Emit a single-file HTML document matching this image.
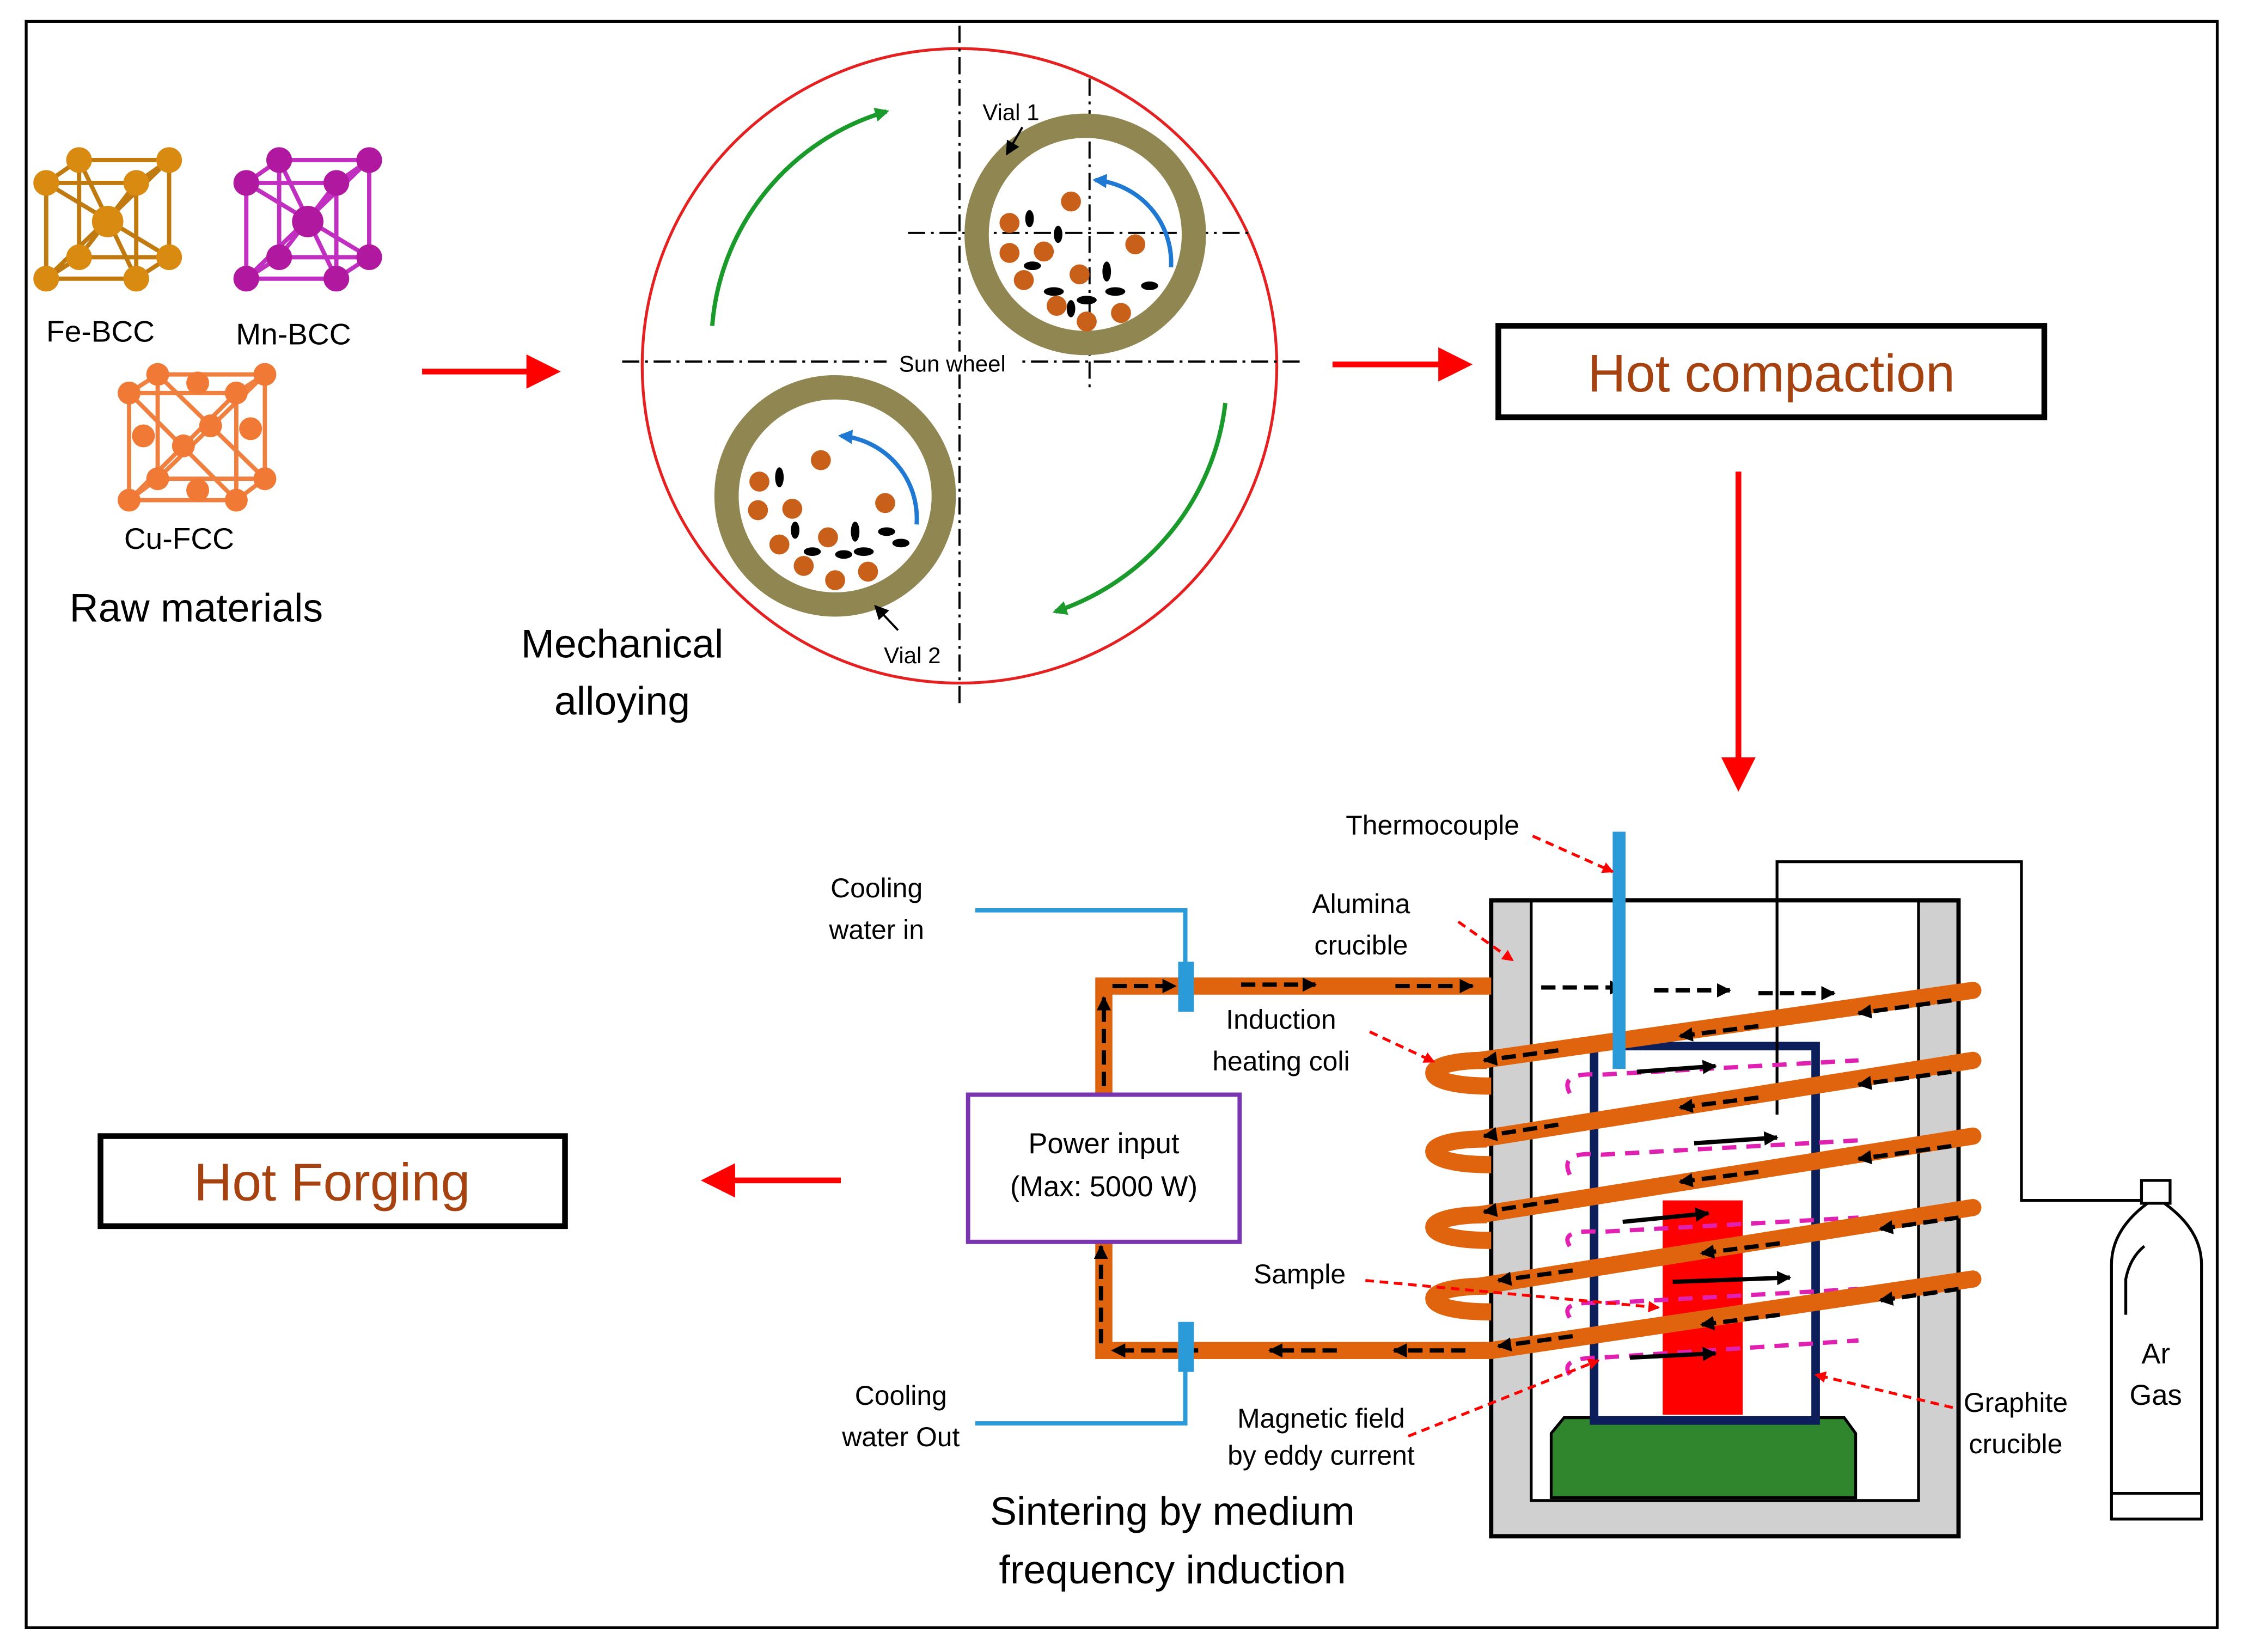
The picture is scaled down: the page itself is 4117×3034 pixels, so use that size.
<!DOCTYPE html>
<html><head><meta charset="utf-8"><style>
html,body{margin:0;padding:0;background:#fff}
svg{display:block}
text{font-family:"Liberation Sans",sans-serif}
</style></head><body>
<svg width="4117" height="3034" viewBox="0 0 1568 1156" xmlns="http://www.w3.org/2000/svg">
<defs>
<marker id="ra" markerWidth="6" markerHeight="6" refX="5" refY="3" orient="auto" markerUnits="strokeWidth"><path d="M0,0 L6,3 L0,6 z" fill="#f00"/></marker>
<marker id="rs" markerWidth="8" markerHeight="8" refX="7" refY="4" orient="auto" markerUnits="userSpaceOnUse"><path d="M0,0 L8,4 L0,8 z" fill="#f00"/></marker>
<marker id="ka" markerWidth="10" markerHeight="10" refX="9" refY="5" orient="auto" markerUnits="userSpaceOnUse"><path d="M0,0 L10,5 L0,10 z" fill="#000"/></marker>
<marker id="ga" markerWidth="10" markerHeight="10" refX="8" refY="5" orient="auto" markerUnits="userSpaceOnUse"><path d="M0,0 L10,5 L0,10 z" fill="#1a9a2a"/></marker>
<marker id="ba" markerWidth="10" markerHeight="10" refX="8" refY="5" orient="auto" markerUnits="userSpaceOnUse"><path d="M0,0 L10,5 L0,10 z" fill="#1f78d1"/></marker>
</defs>
<rect x="0" y="0" width="1568" height="1156" fill="#fff"/>
<rect x="18" y="15" width="1533" height="1124" fill="none" stroke="#000" stroke-width="2"/>

<!-- crystals -->
<g stroke="#c07a10" stroke-width="3" fill="none">
<path d="M32,128 L95,128 L95,195 L32,195 Z M55,112 L118,112 L118,180 L55,180 Z M32,128 L55,112 M95,128 L118,112 M95,195 L118,180 M32,195 L55,180 M32,128 L118,180 M95,128 L55,180 M32,195 L118,112 M95,195 L55,112"/>
</g>
<g fill="#d98a10"><circle cx="32" cy="128" r="9"/><circle cx="95" cy="128" r="9"/><circle cx="32" cy="195" r="9"/><circle cx="95" cy="195" r="9"/><circle cx="55" cy="112" r="9"/><circle cx="118" cy="112" r="9"/><circle cx="55" cy="180" r="9"/><circle cx="118" cy="180" r="9"/><circle cx="75" cy="155" r="11"/></g>
<g stroke="#c02fc0" stroke-width="3" fill="none">
<path d="M172,128 L235,128 L235,195 L172,195 Z M195,112 L258,112 L258,180 L195,180 Z M172,128 L195,112 M235,128 L258,112 M235,195 L258,180 M172,195 L195,180 M172,128 L258,180 M235,128 L195,180 M172,195 L258,112 M235,195 L195,112"/>
</g>
<g fill="#b0189f"><circle cx="172" cy="128" r="9"/><circle cx="235" cy="128" r="9"/><circle cx="172" cy="195" r="9"/><circle cx="235" cy="195" r="9"/><circle cx="195" cy="112" r="9"/><circle cx="258" cy="112" r="9"/><circle cx="195" cy="180" r="9"/><circle cx="258" cy="180" r="9"/><circle cx="215" cy="155" r="11"/></g>
<g stroke="#f08040" stroke-width="3" fill="none">
<path d="M90,275 L165,275 L165,350 L90,350 Z M110,262 L185,262 L185,335 L110,335 Z M90,275 L110,262 M165,275 L185,262 M165,350 L185,335 M90,350 L110,335 M90,275 L165,350 M165,275 L90,350 M110,262 L185,335 M185,262 L110,335"/>
</g>
<g fill="#f07a35"><circle cx="90" cy="275" r="8"/><circle cx="165" cy="275" r="8"/><circle cx="90" cy="350" r="8"/><circle cx="165" cy="350" r="8"/><circle cx="110" cy="262" r="8"/><circle cx="185" cy="262" r="8"/><circle cx="110" cy="335" r="8"/><circle cx="185" cy="335" r="8"/><circle cx="128" cy="312" r="8"/><circle cx="147" cy="298" r="8"/><circle cx="100" cy="305" r="8"/><circle cx="175" cy="300" r="8"/><circle cx="138" cy="268" r="8"/><circle cx="138" cy="343" r="8"/></g>
<text x="70" y="239" font-size="21" text-anchor="middle">Fe-BCC</text>
<text x="205" y="241" font-size="21" text-anchor="middle">Mn-BCC</text>
<text x="125" y="384" font-size="21" text-anchor="middle">Cu-FCC</text>
<text x="137" y="435" font-size="28" text-anchor="middle">Raw materials</text>

<line x1="295" y1="260" x2="388" y2="260" stroke="#f00" stroke-width="4" marker-end="url(#ra)"/>

<!-- mill -->
<circle cx="671" cy="256" r="222" fill="none" stroke="#e52020" stroke-width="2"/>
<g stroke="#000" stroke-width="1.5" stroke-dasharray="12,4,2,4" fill="none">
<line x1="671" y1="18" x2="671" y2="492"/><line x1="435" y1="253" x2="912" y2="253"/>
<line x1="762" y1="55" x2="762" y2="275"/><line x1="635" y1="163" x2="875" y2="163"/>
</g>
<circle cx="759" cy="164" r="76" fill="none" stroke="#8f8652" stroke-width="17"/>
<circle cx="584" cy="347" r="76" fill="none" stroke="#8f8652" stroke-width="17"/>
<rect x="620" y="246" width="92" height="16" fill="#fff"/>
<text x="666" y="260" font-size="16" text-anchor="middle">Sun wheel</text>
<text x="707" y="84" font-size="16" text-anchor="middle">Vial 1</text>
<text x="638" y="464" font-size="16" text-anchor="middle">Vial 2</text>
<line x1="715" y1="89" x2="704" y2="108" stroke="#000" stroke-width="1.5" marker-end="url(#ka)"/>
<line x1="628" y1="441" x2="612" y2="424" stroke="#000" stroke-width="1.5" marker-end="url(#ka)"/>
<path d="M498,228 A170,170 0 0 1 620,78" fill="none" stroke="#1a9a2a" stroke-width="3" marker-end="url(#ga)"/>
<path d="M857,282 A175,175 0 0 1 738,428" fill="none" stroke="#1a9a2a" stroke-width="3" marker-end="url(#ga)"/>
<path d="M819,187 A58,58 0 0 0 766,126" fill="none" stroke="#1f78d1" stroke-width="3" marker-end="url(#ba)"/>
<path d="M641,367 A58,58 0 0 0 588,305" fill="none" stroke="#1f78d1" stroke-width="3" marker-end="url(#ba)"/>
<g fill="#c8601a">
<circle cx="706" cy="156" r="7"/><circle cx="749" cy="141" r="7"/><circle cx="706" cy="177" r="7"/><circle cx="730" cy="176" r="7"/><circle cx="716" cy="196" r="7"/><circle cx="755" cy="192" r="7"/><circle cx="794" cy="171" r="7"/><circle cx="739" cy="214" r="7"/><circle cx="784" cy="219" r="7"/><circle cx="760" cy="225" r="7"/>
<circle cx="574" cy="322" r="7"/><circle cx="531" cy="337" r="7"/><circle cx="530" cy="357" r="7"/><circle cx="554" cy="356" r="7"/><circle cx="619" cy="352" r="7"/><circle cx="579" cy="376" r="7"/><circle cx="545" cy="381" r="7"/><circle cx="562" cy="396" r="7"/><circle cx="584" cy="406" r="7"/><circle cx="607" cy="400" r="7"/>
</g>
<g fill="#000">
<ellipse cx="720" cy="153" rx="3" ry="6"/><ellipse cx="740" cy="164" rx="3" ry="6"/><ellipse cx="722" cy="186" rx="6" ry="3"/><ellipse cx="774" cy="190" rx="3" ry="7"/><ellipse cx="737" cy="204" rx="7" ry="3"/><ellipse cx="760" cy="210" rx="7" ry="3"/><ellipse cx="780" cy="204" rx="7" ry="3"/><ellipse cx="804" cy="200" rx="6" ry="3"/><ellipse cx="749" cy="216" rx="3" ry="6"/>
<ellipse cx="545" cy="334" rx="3" ry="7"/><ellipse cx="556" cy="371" rx="3" ry="6"/><ellipse cx="568" cy="386" rx="6" ry="3"/><ellipse cx="598" cy="372" rx="3" ry="7"/><ellipse cx="604" cy="386" rx="7" ry="3"/><ellipse cx="630" cy="380" rx="6" ry="3"/><ellipse cx="620" cy="372" rx="6" ry="3"/><ellipse cx="590" cy="388" rx="6" ry="3"/>
</g>
<text x="435" y="460" font-size="28" text-anchor="middle">Mechanical</text>
<text x="435" y="500" font-size="28" text-anchor="middle">alloying</text>

<line x1="932" y1="255" x2="1026" y2="255" stroke="#f00" stroke-width="4" marker-end="url(#ra)"/>
<rect x="1048" y="228" width="382" height="64" fill="#fff" stroke="#000" stroke-width="4"/>
<text x="1239" y="274" font-size="37" fill="#a5420f" text-anchor="middle">Hot compaction</text>
<line x1="1216" y1="330" x2="1216" y2="550" stroke="#f00" stroke-width="4" marker-end="url(#ra)"/>

<rect x="70" y="795" width="325" height="63" fill="#fff" stroke="#000" stroke-width="4"/>
<text x="232" y="840" font-size="37" fill="#a5420f" text-anchor="middle">Hot Forging</text>
<line x1="588" y1="826" x2="494" y2="826" stroke="#f00" stroke-width="4" marker-end="url(#ra)"/>

<!-- furnace -->
<rect x="1043" y="630" width="327" height="445" fill="#d0d0d0" stroke="#000" stroke-width="3"/>
<rect x="1071" y="630" width="271" height="420" fill="#fff" stroke="#000" stroke-width="2"/>
<line x1="1043" y1="630" x2="1370" y2="630" stroke="#000" stroke-width="3"/>
<path d="M1085,1048 L1085,1003 L1094,992 L1290,992 L1298,1003 L1298,1048 Z" fill="#2f862c" stroke="#000" stroke-width="2"/>
<rect x="1115" y="732" width="155" height="262" fill="none" stroke="#0d1f5a" stroke-width="6"/>
<rect x="1163" y="840" width="56" height="150" fill="#f00"/>
<polyline points="1243,780 1243,603 1414,603 1414,840 1500,840" fill="none" stroke="#000" stroke-width="2"/>
<!-- magenta field -->
<g stroke="#e020b0" stroke-width="3" stroke-dasharray="10,7" fill="none">
<path d="M1098,765 Q1090,750 1120,752 L1300,742"/><path d="M1098,822 Q1090,805 1120,808 L1300,798"/>
<path d="M1098,872 Q1090,860 1120,862 L1300,852"/><path d="M1098,922 Q1090,910 1120,912 L1300,902"/>
<path d="M1098,962 Q1090,950 1120,950 L1300,938"/>
</g>
<!-- coil -->
<g stroke="#e0630d" stroke-width="12" fill="none" stroke-linecap="round">
<path d="M1040,742 C990,742 990,760 1043,760" stroke-linecap="butt"/>
<path d="M1040,797 C990,797 990,815 1043,815" stroke-linecap="butt"/>
<path d="M1040,850 C990,850 990,868 1043,868" stroke-linecap="butt"/>
<path d="M1040,900 C990,900 990,918 1043,918" stroke-linecap="butt"/>
<line x1="1380" y1="693" x2="1035" y2="742"/>
<line x1="1380" y1="742" x2="1035" y2="797"/>
<line x1="1380" y1="795" x2="1035" y2="850"/>
<line x1="1380" y1="845" x2="1035" y2="900"/>
<line x1="1380" y1="895" x2="1043" y2="945"/>
<polyline points="1043,690 772,690 772,945 1043,945" stroke-linecap="butt"/>
</g>
<!-- coil black arrows -->
<g stroke="#000" stroke-width="3" stroke-dasharray="10,5" fill="none">
<line x1="1365" y1="700" x2="1300" y2="709" marker-end="url(#ka)"/><line x1="1230" y1="718" x2="1175" y2="725" marker-end="url(#ka)"/><line x1="1090" y1="735" x2="1038" y2="742" marker-end="url(#ka)"/>
<line x1="1365" y1="750" x2="1300" y2="759" marker-end="url(#ka)"/><line x1="1230" y1="768" x2="1175" y2="775" marker-end="url(#ka)"/><line x1="1090" y1="787" x2="1038" y2="795" marker-end="url(#ka)"/>
<line x1="1365" y1="802" x2="1300" y2="811" marker-end="url(#ka)"/><line x1="1230" y1="820" x2="1175" y2="827" marker-end="url(#ka)"/><line x1="1090" y1="840" x2="1038" y2="848" marker-end="url(#ka)"/>
<line x1="1370" y1="852" x2="1315" y2="860" marker-end="url(#ka)"/><line x1="1245" y1="870" x2="1190" y2="877" marker-end="url(#ka)"/><line x1="1100" y1="889" x2="1048" y2="896" marker-end="url(#ka)"/>
<line x1="1370" y1="902" x2="1315" y2="910" marker-end="url(#ka)"/><line x1="1245" y1="920" x2="1190" y2="927" marker-end="url(#ka)"/><line x1="1100" y1="935" x2="1048" y2="942" marker-end="url(#ka)"/>
<line x1="778" y1="690" x2="822" y2="690" marker-end="url(#ka)"/><line x1="868" y1="689" x2="920" y2="689" marker-end="url(#ka)"/><line x1="976" y1="690" x2="1030" y2="690" marker-end="url(#ka)"/>
<line x1="1078" y1="691" x2="1135" y2="691" marker-end="url(#ka)"/><line x1="1157" y1="693" x2="1210" y2="693" marker-end="url(#ka)"/><line x1="1230" y1="695" x2="1283" y2="695" marker-end="url(#ka)"/>
<line x1="1025" y1="945" x2="975" y2="945" marker-end="url(#ka)"/><line x1="935" y1="945" x2="888" y2="945" marker-end="url(#ka)"/><line x1="838" y1="945" x2="778" y2="945" marker-end="url(#ka)"/>
<line x1="772" y1="760" x2="772" y2="698" marker-end="url(#ka)"/><line x1="770" y1="940" x2="770" y2="872" marker-end="url(#ka)"/>
</g>
<g stroke="#000" stroke-width="3" fill="none">
<line x1="1145" y1="750" x2="1200" y2="746" marker-end="url(#ka)"/><line x1="1185" y1="800" x2="1243" y2="796" marker-end="url(#ka)"/>
<line x1="1135" y1="855" x2="1195" y2="849" marker-end="url(#ka)"/><line x1="1170" y1="897" x2="1252" y2="894" marker-end="url(#ka)"/>
<line x1="1140" y1="950" x2="1200" y2="947" marker-end="url(#ka)"/>
</g>
<!-- thermocouple -->
<rect x="1128" y="582" width="9" height="166" fill="#2a9ad8"/>
<!-- cooling -->
<polyline points="682,637 829,637 829,700" fill="none" stroke="#2a9ad8" stroke-width="3"/>
<polyline points="682,996 829,996 829,935" fill="none" stroke="#2a9ad8" stroke-width="3"/>
<rect x="824" y="673" width="11" height="35" fill="#2a9ad8"/>
<rect x="824" y="925" width="11" height="35" fill="#2a9ad8"/>
<rect x="677" y="766" width="190" height="103" fill="#fff" stroke="#7a35b0" stroke-width="3"/>
<text x="772" y="807" font-size="20" text-anchor="middle">Power input</text>
<text x="772" y="837" font-size="20" text-anchor="middle">(Max: 5000 W)</text>
<!-- Ar gas -->
<path d="M1477,1063 L1477,885 Q1477,858 1508,838 Q1540,858 1540,885 L1540,1063 Z" fill="#fff" stroke="#000" stroke-width="2"/>
<line x1="1477" y1="1045" x2="1540" y2="1045" stroke="#000" stroke-width="2"/>
<rect x="1498" y="826" width="20" height="16" fill="#fff" stroke="#000" stroke-width="2"/>
<path d="M1487,920 L1487,895 Q1490,880 1500,872" fill="none" stroke="#000" stroke-width="2"/>
<text x="1508" y="954" font-size="20" text-anchor="middle">Ar</text>
<text x="1508" y="983" font-size="20" text-anchor="middle">Gas</text>
<!-- labels -->
<g font-size="19" text-anchor="middle">
<text x="1002" y="584">Thermocouple</text>
<text x="952" y="639">Alumina</text><text x="952" y="668">crucible</text>
<text x="896" y="720">Induction</text><text x="896" y="749">heating coli</text>
<text x="613" y="628">Cooling</text><text x="613" y="657">water in</text>
<text x="630" y="983">Cooling</text><text x="630" y="1012">water Out</text>
<text x="909" y="898">Sample</text>
<text x="924" y="999">Magnetic field</text><text x="924" y="1025">by eddy current</text>
<text x="1410" y="988">Graphite</text><text x="1410" y="1017">crucible</text>
</g>
<g stroke="#f00" stroke-width="2" stroke-dasharray="6,4" fill="none">
<line x1="1072" y1="585" x2="1128" y2="610" marker-end="url(#rs)"/>
<line x1="1020" y1="645" x2="1058" y2="672" marker-end="url(#rs)"/>
<line x1="958" y1="722" x2="1003" y2="743" marker-end="url(#rs)"/>
<line x1="955" y1="896" x2="1160" y2="915" marker-end="url(#rs)"/>
<line x1="985" y1="1005" x2="1118" y2="952" marker-end="url(#rs)"/>
<line x1="1366" y1="985" x2="1270" y2="962" marker-end="url(#rs)"/>
</g>
<text x="820" y="1067" font-size="28" text-anchor="middle">Sintering by medium</text>
<text x="820" y="1108" font-size="28" text-anchor="middle">frequency induction</text>
</svg>
</body></html>
